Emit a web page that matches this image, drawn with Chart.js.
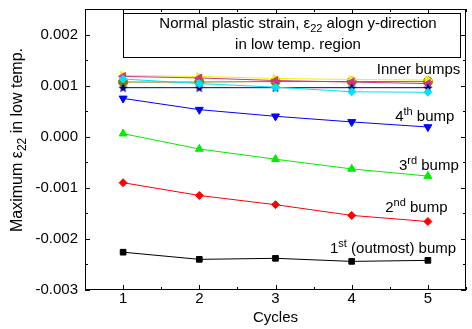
<!DOCTYPE html>
<html>
<head>
<meta charset="utf-8">
<script src="https://cdn.jsdelivr.net/npm/chart.js@4.4.0/dist/chart.umd.min.js"></script>
<style>
  html, body { margin: 0; padding: 0; background: #fff; }
</style>
</head>
<body>
<canvas id="myChart" width="472" height="329"></canvas>
<script>
// cycles on x, maximum normal plastic strain e22 on y
const cycles = [1, 2, 3, 4, 5];
const bump1 = [-0.00226, -0.00240, -0.00238, -0.00244, -0.00242];
const bump2 = [-0.00090, -0.00115, -0.00133, -0.00154, -0.00166];
const bump3 = [0.00006, -0.00024, -0.00044, -0.00063, -0.00077];
const bump4 = [0.00075, 0.00053, 0.00040, 0.00029, 0.00019];
const innerCyan = [0.00113, 0.00104, 0.00097, 0.00088, 0.00087];
const innerNavy = [0.00096, 0.00096, 0.00096, 0.00096, 0.00096];
const innerMagenta = [0.00118, 0.00115, 0.00110, 0.00107, 0.00104];
const innerYellow = [0.00120, 0.00118, 0.00114, 0.00112, 0.00111];
const innerOlive = [0.00107, 0.00107, 0.00108, 0.00108, 0.00108];

const xTicks = [1, 2, 3, 4, 5];
const xMinor = [0.5, 1.5, 2.5, 3.5, 4.5, 5.5];
const yTicks = [-0.003, -0.002, -0.001, 0.000, 0.001, 0.002];
const yMinor = [-0.0025, -0.0015, -0.0005, 0.0005, 0.0015, 0.0025];

const FONT = "'Liberation Sans', Arial, sans-serif";

function pts(vals) {
  return cycles.map((c, i) => ({ x: c, y: vals[i] }));
}

// filled five-point star used as a marker
function starMarker(color, r) {
  const c = document.createElement("canvas");
  const s = Math.ceil(r * 2 + 2);
  c.width = s; c.height = s;
  const g = c.getContext("2d");
  g.fillStyle = color;
  g.beginPath();
  for (let i = 0; i < 10; i++) {
    const rad = i % 2 === 0 ? r : r * 0.45;
    const a = -Math.PI / 2 + i * Math.PI / 5;
    const px = s / 2 + Math.cos(a) * rad;
    const py = s / 2 + 0.5 + Math.sin(a) * rad;
    if (i === 0) g.moveTo(px, py); else g.lineTo(px, py);
  }
  g.closePath();
  g.fill();
  return c;
}

function series(vals, color, style, radius, rotation) {
  return {
    data: pts(vals),
    borderColor: color,
    backgroundColor: color,
    borderWidth: 1,
    pointStyle: style,
    pointRadius: radius,
    pointHoverRadius: radius,
    pointRotation: rotation || 0,
    pointBorderWidth: 1,
    tension: 0
  };
}

// text runs with sub/superscripts
function drawRuns(ctx, runs, x, y, size, align) {
  const parts = runs.map(r => {
    const fs = r.m === "n" ? size : Math.round(size * 0.72);
    ctx.font = fs + "px " + FONT;
    return { t: r.t, fs: fs, w: ctx.measureText(r.t).width, m: r.m };
  });
  const total = parts.reduce((a, p) => a + p.w, 0);
  let cx = align === "center" ? x - total / 2 : x;
  ctx.textAlign = "left";
  ctx.textBaseline = "middle";
  parts.forEach(p => {
    ctx.font = p.fs + "px " + FONT;
    let dy = 0;
    if (p.m === "sub") dy = size * 0.3;
    if (p.m === "sup") dy = -size * 0.35;
    ctx.fillText(p.t, cx, y + dy);
    cx += p.w;
  });
}

const notes = [
  { x: 4.33, y: 0.00130, runs: [{ t: "Inner bumps", m: "n" }] },
  { x: 4.57, y: 0.00039, runs: [{ t: "4", m: "n" }, { t: "th", m: "sup" }, { t: " bump", m: "n" }] },
  { x: 4.62, y: -0.00057, runs: [{ t: "3", m: "n" }, { t: "rd", m: "sup" }, { t: " bump", m: "n" }] },
  { x: 4.44, y: -0.00140, runs: [{ t: "2", m: "n" }, { t: "nd", m: "sup" }, { t: " bump", m: "n" }] },
  { x: 3.715, y: -0.00220, runs: [{ t: "1", m: "n" }, { t: "st", m: "sup" }, { t: " (outmost) bump", m: "n" }] }
];

const framePlugin = {
  id: "frame",
  afterDatasetsDraw(chart) {
    const { ctx, chartArea: a, scales } = chart;
    ctx.save();
    ctx.strokeStyle = "#000";
    ctx.lineWidth = 1;
    ctx.strokeRect(a.left + 0.5, a.top + 0.5, a.right - a.left - 1, a.bottom - a.top - 1);
    ctx.beginPath();
    const tickX = (v, len) => {
      const px = Math.round(scales.x.getPixelForValue(v)) + 0.5;
      ctx.moveTo(px, a.bottom); ctx.lineTo(px, a.bottom - len);
      ctx.moveTo(px, a.top); ctx.lineTo(px, a.top + len);
    };
    const tickY = (v, len) => {
      const py = Math.round(scales.y.getPixelForValue(v)) + 0.5;
      ctx.moveTo(a.left, py); ctx.lineTo(a.left + len, py);
      ctx.moveTo(a.right, py); ctx.lineTo(a.right - len, py);
    };
    xTicks.forEach(v => tickX(v, 5));
    xMinor.forEach(v => tickX(v, 3));
    yTicks.forEach(v => tickY(v, 5));
    yMinor.forEach(v => tickY(v, 3));
    ctx.stroke();
    ctx.restore();
  },
  afterDraw(chart) {
    const { ctx, scales } = chart;
    ctx.save();

    // title box
    ctx.fillStyle = "#fff";
    ctx.fillRect(123, 13, 337, 44);
    ctx.strokeStyle = "#000";
    ctx.lineWidth = 1;
    ctx.strokeRect(123.5, 13.5, 337, 44);
    ctx.fillStyle = "#000";
    drawRuns(ctx, [
      { t: "Normal plastic strain, ", m: "n" },
      { t: "ε", m: "n" },
      { t: "22", m: "sub" },
      { t: " alogn y-direction", m: "n" }
    ], 298, 24, 15, "center");
    drawRuns(ctx, [{ t: "in low temp. region", m: "n" }], 298, 45, 15, "center");

    // curve labels
    notes.forEach(n => {
      drawRuns(ctx, n.runs, scales.x.getPixelForValue(n.x), scales.y.getPixelForValue(n.y), 15, "left");
    });

    // y axis title
    ctx.translate(18, 140);
    ctx.rotate(-Math.PI / 2);
    drawRuns(ctx, [
      { t: "Maximum ", m: "n" },
      { t: "ε", m: "n" },
      { t: "22", m: "sub" },
      { t: " in low temp.", m: "n" }
    ], 0, 0, 16, "center");
    ctx.restore();
  }
};

const tickFont = { family: FONT, size: 15 };

const config = {
  type: "line",
  data: {
    datasets: [
      series(bump1, "#000000", "rect", 4),
      series(bump2, "#ff0000", "rectRot", 4),
      series(bump3, "#00ee00", "triangle", 4.6),
      series(bump4, "#0000ff", "triangle", 4.6, 180),
      series(innerCyan, "#00e0ff", "rectRot", 4),
      series(innerNavy, "#000080", starMarker("#000080", 5)),
      series(innerMagenta, "#d0308a", "triangle", 4.6, -90),
      series(innerYellow, "#f0f000", "triangle", 4.6, 90),
      series(innerOlive, "#808000", "circle", 4.6)
    ]
  },
  plugins: [framePlugin],
  options: {
    responsive: false,
    animation: false,
    devicePixelRatio: 1,
    layout: { padding: { top: 9, right: 6, left: 0, bottom: 0 } },
    plugins: { legend: { display: false }, tooltip: { enabled: false } },
    scales: {
      x: {
        type: "linear",
        min: 0.5,
        max: 5.5,
        afterBuildTicks: s => { s.ticks = xTicks.map(v => ({ value: v })); },
        afterFit: s => { s.height = 39; s.paddingLeft = 0; s.paddingRight = 0; },
        grid: { display: false, drawTicks: false },
        border: { display: false },
        ticks: { font: tickFont, color: "#000", padding: 0, maxRotation: 0 },
        title: { display: true, text: "Cycles", font: tickFont, color: "#000", padding: { top: 0, bottom: 2 } }
      },
      y: {
        type: "linear",
        min: -0.003,
        max: 0.0025,
        afterBuildTicks: s => { s.ticks = yTicks.map(v => ({ value: v })); },
        afterFit: s => { s.width = 85; s.paddingTop = 0; s.paddingBottom = 0; },
        grid: { display: false, drawTicks: false },
        border: { display: false },
        ticks: { font: tickFont, color: "#000", padding: 7, callback: v => v.toFixed(3) }
      }
    }
  }
};

new Chart(document.getElementById("myChart"), config);
</script>
</body>
</html>
